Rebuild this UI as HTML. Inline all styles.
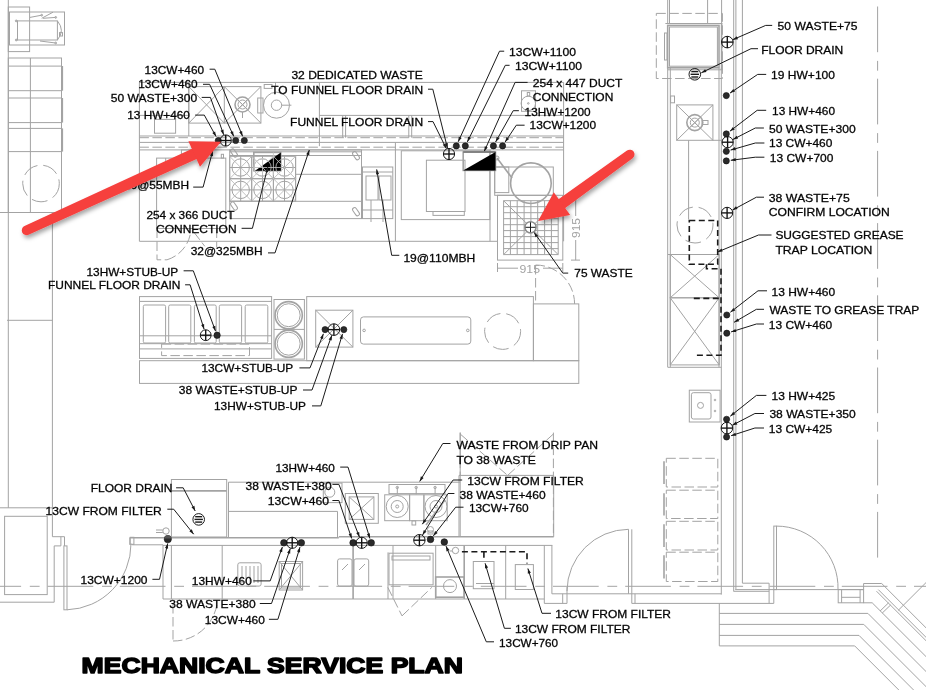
<!DOCTYPE html>
<html><head><meta charset="utf-8"><title>Mechanical Service Plan</title>
<style>
html,body{margin:0;padding:0;background:#fff;}
body{width:926px;height:690px;overflow:hidden;}
svg{display:block;}
.g{stroke:#a3a3a3;stroke-width:1;fill:none;}
.gt{stroke:#a3a3a3;stroke-width:1.6;fill:none;}
.gw{stroke:#c8c8c8;stroke-width:0.8;fill:none;}
.gl{stroke:#b4b4b4;stroke-width:0.8;fill:none;}
.gd{stroke:#a3a3a3;stroke-width:1;fill:none;stroke-dasharray:9.5 3.5;}
.gdc{stroke:#a3a3a3;stroke-width:1;fill:none;stroke-dasharray:16 6;}
.gdl{stroke:#a3a3a3;stroke-width:1;fill:none;stroke-dasharray:45.7 8.7 9.8 8;}
.k{stroke:#1a1a1a;stroke-width:1;fill:none;}
.kc{stroke:#1a1a1a;stroke-width:1;fill:#fff;fill-opacity:0;}
.kd{stroke:#1a1a1a;stroke-width:1.6;fill:none;stroke-dasharray:6 3.5;}
.gk{stroke:#555;stroke-width:1.2;fill:none;}
.kx{stroke:#111;stroke-width:1.35;fill:none;}
.kb{stroke:#1a1a1a;stroke-width:1.4;fill:none;}
.ka{fill:#1a1a1a;stroke:none;}
.kf{fill:#000;stroke:none;}
.dot{fill:#2a2a2a;stroke:#111;stroke-width:0.6;}
.dotf{fill:#1a1a1a;}
.tg{opacity:0.995;}
.t{font-family:"Liberation Sans",sans-serif;fill:#050505;stroke:#050505;stroke-width:0.28;}
.gtxt{opacity:0.995;font-family:"Liberation Sans",sans-serif;font-size:11px;fill:#a3a3a3;}
.red{fill:#f63f3e;}
.title{opacity:0.995;font-family:"Liberation Sans",sans-serif;font-weight:bold;font-size:22.3px;fill:#000;stroke:#000;stroke-width:1.5;stroke-linejoin:round;}
</style></head>
<body>
<svg width="926" height="690" viewBox="0 0 926 690">
<defs>
<filter id="sh" x="-10%" y="-20%" width="130%" height="150%">
<feDropShadow dx="1.5" dy="3" stdDeviation="2.2" flood-color="#000" flood-opacity="0.35"/>
</filter>
</defs>
<rect x="0" y="0" width="926" height="690" fill="#fff"/>
<g>
<line class="gdl" x1="-24.6" y1="586.3" x2="926" y2="586.3"/>
<line class="gdl" x1="877.6" y1="6.5" x2="877.6" y2="563"/>
<line class="g" x1="8.3" y1="0" x2="8.3" y2="507.8"/>
<rect class="g" x="8.3" y="7" width="21.3" height="44.6"/>
<rect class="g" x="9.5" y="12" width="55" height="33"/>
<rect class="g" x="17.5" y="20.9" width="39.9" height="19.1"/>
<line class="g" x1="16" y1="20.9" x2="17.5" y2="20.9"/>
<line class="g" x1="16" y1="40" x2="17.5" y2="40"/>
<path class="g" d="M57.4,20.9 q8,9.5 0,19.1"/>
<rect class="g" x="59.5" y="32.6" width="3" height="3.4"/>
<circle class="g" cx="16.2" cy="20.9" r="0.9"/>
<circle class="g" cx="16.2" cy="40" r="0.9"/>
<circle class="g" cx="55.7" cy="17.4" r="0.9"/>
<circle class="g" cx="55.7" cy="43" r="0.9"/>
<circle class="g" cx="41.7" cy="15.2" r="0.9"/>
<line class="g" x1="30" y1="17.4" x2="41.7" y2="15.2"/>
<line class="g" x1="41.7" y1="18.3" x2="53" y2="12.2"/>
<line class="g" x1="43" y1="18.3" x2="55.7" y2="17.4"/>
<line class="g" x1="40" y1="41" x2="55.7" y2="43"/>
<rect class="g" x="8.3" y="58" width="53.2" height="154.5"/>
<line class="g" x1="8.3" y1="66.1" x2="61.5" y2="66.1"/>
<line class="g" x1="8.3" y1="90.7" x2="61.5" y2="90.7"/>
<line class="g" x1="8.3" y1="98" x2="61.5" y2="98"/>
<line class="g" x1="8.3" y1="122.6" x2="61.5" y2="122.6"/>
<line class="g" x1="8.3" y1="128.4" x2="61.5" y2="128.4"/>
<line class="g" x1="8.3" y1="151.6" x2="61.5" y2="151.6"/>
<line class="g" x1="30.4" y1="58" x2="30.4" y2="212.5"/>
<line class="gt" x1="62.3" y1="66" x2="62.3" y2="90.7"/>
<line class="gt" x1="62.3" y1="98" x2="62.3" y2="122.6"/>
<line class="gt" x1="62.3" y1="128.4" x2="62.3" y2="151.6"/>
<circle class="gdc" cx="41" cy="183.5" r="18.3"/>
<line class="g" x1="0" y1="212.5" x2="8.3" y2="212.5"/>
<line class="g" x1="52.4" y1="212.5" x2="52.4" y2="536.7"/>
<line class="g" x1="7" y1="320.3" x2="52.4" y2="320.3"/>
<line class="g" x1="0" y1="507.8" x2="52.4" y2="507.8"/>
<rect class="g" x="4.6" y="516.3" width="42.6" height="78.3"/>
<line class="g" x1="0" y1="602.2" x2="54.2" y2="602.2"/>
<line class="g" x1="54.2" y1="545.9" x2="54.2" y2="602.2"/>
<line class="g" x1="52.4" y1="536.7" x2="64.5" y2="536.7"/>
<line class="g" x1="60.9" y1="536.7" x2="60.9" y2="545.9"/>
<line class="g" x1="64.5" y1="536.7" x2="64.5" y2="545.9"/>
<line class="g" x1="54.2" y1="545.9" x2="60.9" y2="545.9"/>
<rect class="g" x="63.9" y="545.9" width="3.1" height="63.9"/>
<path class="g" d="M67,609.8 A66,66 0 0 0 131,543.5"/>
<rect class="g" x="130.2" y="537.3" width="3.7" height="7"/>
<line class="g" x1="139.4" y1="82.4" x2="563.6" y2="82.4"/>
<line class="g" x1="139.4" y1="82.4" x2="139.4" y2="241.3"/>
<line class="g" x1="563.6" y1="82.4" x2="563.6" y2="241.3"/>
<line class="g" x1="139.4" y1="241.3" x2="497.5" y2="241.3"/>
<line class="g" x1="139.4" y1="115.4" x2="188.8" y2="115.4"/>
<line class="g" x1="319.4" y1="115.4" x2="563.6" y2="115.4"/>
<rect class="g" x="154.5" y="119.4" width="21.1" height="13.8"/>
<line class="g" x1="188.8" y1="82.4" x2="188.8" y2="136"/>
<rect class="g" x="188.8" y="86.6" width="72.1" height="36.5"/>
<line class="g" x1="188.8" y1="86.6" x2="224.3" y2="123.1"/>
<line class="g" x1="188.8" y1="123.1" x2="224.3" y2="86.6"/>
<line class="g" x1="224.3" y1="86.6" x2="224.3" y2="123.1"/>
<line class="g" x1="224.3" y1="86.6" x2="260.9" y2="123.1"/>
<line class="g" x1="224.3" y1="123.1" x2="260.9" y2="86.6"/>
<circle class="gt" cx="242.5" cy="104.5" r="7.5"/>
<circle class="g" cx="242.5" cy="104.5" r="4.5"/>
<line class="g" x1="238" y1="100" x2="247" y2="109"/>
<line class="g" x1="238" y1="109" x2="247" y2="100"/>
<line class="g" x1="242.5" y1="112" x2="242.5" y2="118"/>
<circle class="g" cx="276.5" cy="105.2" r="13"/>
<circle class="g" cx="276.5" cy="105.2" r="5.2"/>
<line class="g" x1="281.7" y1="105.2" x2="291.4" y2="105.2"/>
<rect class="g" x="257.7" y="98" width="5.3" height="15"/>
<rect class="g" x="264.2" y="84.5" width="7.8" height="3.9"/>
<line class="g" x1="319.4" y1="82.4" x2="319.4" y2="146.2"/>
<line class="g" x1="275.5" y1="82.4" x2="275.5" y2="86"/>
<rect class="g" x="521.5" y="90.8" width="14" height="20.5"/>
<circle class="g" cx="528.3" cy="103.4" r="7.2"/>
<circle class="g" cx="528.3" cy="103.4" r="0.8"/>
<rect class="g" x="527.3" y="92.5" width="2.4" height="3.5"/>
<line class="g" x1="139.4" y1="136" x2="563.6" y2="136"/>
<line class="gd" x1="139.4" y1="137.7" x2="563.6" y2="137.7"/>
<line class="g" x1="139.4" y1="142.4" x2="563.6" y2="142.4"/>
<line class="gd" x1="139.4" y1="147.2" x2="563.6" y2="147.2"/>
<line class="g" x1="139.4" y1="149.9" x2="563.6" y2="149.9"/>
<line class="g" x1="342.7" y1="115.4" x2="342.7" y2="137.7"/>
<line class="g" x1="345.6" y1="115.4" x2="345.6" y2="137.7"/>
<line class="g" x1="408.8" y1="115.4" x2="408.8" y2="137.7"/>
<line class="g" x1="411.7" y1="115.4" x2="411.7" y2="137.7"/>
<rect class="g" x="156.6" y="158.1" width="69.2" height="70.4"/>
<rect class="g" x="181.4" y="149.9" width="9.7" height="8.2"/>
<rect class="g" x="221.3" y="154.3" width="2.2" height="3.8"/>
<line class="g" x1="165.7" y1="158.1" x2="165.7" y2="162"/>
<polyline class="gd" points="157,228.5 157,259.8 167,259.8"/>
<path class="gd" d="M167,259.8 A34,34 0 0 0 190.8,231.2"/>
<line class="gd" x1="194" y1="232.3" x2="204.8" y2="246.3"/>
<line class="gd" x1="216.7" y1="228.5" x2="216.7" y2="247.4"/>
<rect class="g" x="229.7" y="149.9" width="131.8" height="68.7"/>
<line class="g" x1="229.7" y1="151.8" x2="361.5" y2="151.8"/>
<line class="g" x1="229.7" y1="155.5" x2="361.5" y2="155.5"/>
<line class="g" x1="295.6" y1="174.3" x2="361.5" y2="174.3"/>
<line class="g" x1="229.7" y1="201.3" x2="361.5" y2="201.3"/>
<line class="g" x1="295.6" y1="155.5" x2="295.6" y2="201.3"/>
<rect class="g" x="229.7" y="156.3" width="22" height="22.4"/>
<circle class="g" cx="240.7" cy="167.5" r="8.7"/>
<line class="gl" x1="229.7" y1="156.3" x2="251.7" y2="178.7"/>
<line class="gl" x1="229.7" y1="178.7" x2="251.7" y2="156.3"/>
<line class="g" x1="229.7" y1="167.5" x2="251.7" y2="167.5"/>
<line class="g" x1="240.7" y1="156.3" x2="240.7" y2="178.7"/>
<rect class="g" x="229.7" y="178.7" width="22" height="22.4"/>
<circle class="g" cx="240.7" cy="189.9" r="8.7"/>
<line class="gl" x1="229.7" y1="178.7" x2="251.7" y2="201.1"/>
<line class="gl" x1="229.7" y1="201.1" x2="251.7" y2="178.7"/>
<line class="g" x1="229.7" y1="189.9" x2="251.7" y2="189.9"/>
<line class="g" x1="240.7" y1="178.7" x2="240.7" y2="201.1"/>
<rect class="g" x="251.7" y="156.3" width="21.7" height="22.4"/>
<circle class="g" cx="262.5" cy="167.5" r="8.7"/>
<line class="gl" x1="251.7" y1="156.3" x2="273.4" y2="178.7"/>
<line class="gl" x1="251.7" y1="178.7" x2="273.4" y2="156.3"/>
<line class="g" x1="251.7" y1="167.5" x2="273.4" y2="167.5"/>
<line class="g" x1="262.5" y1="156.3" x2="262.5" y2="178.7"/>
<rect class="g" x="251.7" y="178.7" width="21.7" height="22.4"/>
<circle class="g" cx="262.5" cy="189.9" r="8.7"/>
<line class="gl" x1="251.7" y1="178.7" x2="273.4" y2="201.1"/>
<line class="gl" x1="251.7" y1="201.1" x2="273.4" y2="178.7"/>
<line class="g" x1="251.7" y1="189.9" x2="273.4" y2="189.9"/>
<line class="g" x1="262.5" y1="178.7" x2="262.5" y2="201.1"/>
<rect class="g" x="273.4" y="156.3" width="22.2" height="22.4"/>
<circle class="g" cx="284.5" cy="167.5" r="8.7"/>
<line class="gl" x1="273.4" y1="156.3" x2="295.6" y2="178.7"/>
<line class="gl" x1="273.4" y1="178.7" x2="295.6" y2="156.3"/>
<line class="g" x1="273.4" y1="167.5" x2="295.6" y2="167.5"/>
<line class="g" x1="284.5" y1="156.3" x2="284.5" y2="178.7"/>
<rect class="g" x="273.4" y="178.7" width="22.2" height="22.4"/>
<circle class="g" cx="284.5" cy="189.9" r="8.7"/>
<line class="gl" x1="273.4" y1="178.7" x2="295.6" y2="201.1"/>
<line class="gl" x1="273.4" y1="201.1" x2="295.6" y2="178.7"/>
<line class="g" x1="273.4" y1="189.9" x2="295.6" y2="189.9"/>
<line class="g" x1="284.5" y1="178.7" x2="284.5" y2="201.1"/>
<rect class="g" x="232" y="148.5" width="4" height="9" rx="2" transform="rotate(-35 234 153)"/>
<rect class="g" x="354" y="151.2" width="4" height="9" rx="2" transform="rotate(-35 356 155.7)"/>
<rect class="g" x="232" y="201.5" width="4" height="9" rx="2" transform="rotate(-35 234 206)"/>
<rect class="g" x="354" y="207.2" width="4" height="9" rx="2" transform="rotate(-35 356 211.7)"/>
<rect class="g" x="362.5" y="167" width="30.3" height="51.6"/>
<rect class="g" x="366" y="176" width="12" height="24"/>
<rect class="g" x="379" y="176" width="12" height="24"/>
<line class="g" x1="362.5" y1="172" x2="392.8" y2="172"/>
<line class="g" x1="362.5" y1="210" x2="392.8" y2="210"/>
<line class="g" x1="371" y1="200" x2="371" y2="222"/>
<line class="g" x1="383" y1="200" x2="383" y2="222"/>
<line class="g" x1="395.4" y1="142.4" x2="395.4" y2="241.3"/>
<rect class="g" x="401.3" y="150.8" width="88.6" height="68.8"/>
<rect class="g" x="426.4" y="160.2" width="38.6" height="51.3"/>
<rect class="g" x="433" y="211.5" width="31.3" height="3.9"/>
<line class="g" x1="490" y1="149.9" x2="490" y2="241.3"/>
<rect class="g" x="494.7" y="167" width="58.6" height="28.3"/>
<rect class="g" x="494.7" y="167" width="14.1" height="25.6"/>
<circle class="gt" cx="530.9" cy="183.2" r="20.3"/>
<line class="gt" x1="497" y1="158" x2="512" y2="178"/>
<circle class="g" cx="497" cy="158" r="2"/>
<rect class="g" x="497.5" y="195.3" width="65.3" height="64.8"/>
<line class="g" x1="503.6" y1="200.7" x2="503.6" y2="254.6"/>
<line class="g" x1="510.4" y1="200.7" x2="510.4" y2="254.6"/>
<line class="g" x1="517.2" y1="200.7" x2="517.2" y2="254.6"/>
<line class="g" x1="524.1" y1="200.7" x2="524.1" y2="254.6"/>
<line class="g" x1="530.9" y1="200.7" x2="530.9" y2="254.6"/>
<line class="g" x1="537.7" y1="200.7" x2="537.7" y2="254.6"/>
<line class="g" x1="544.6" y1="200.7" x2="544.6" y2="254.6"/>
<line class="g" x1="551.4" y1="200.7" x2="551.4" y2="254.6"/>
<line class="g" x1="558.2" y1="200.7" x2="558.2" y2="254.6"/>
<line class="g" x1="503.6" y1="200.7" x2="558.2" y2="200.7"/>
<line class="g" x1="503.6" y1="206.7" x2="558.2" y2="206.7"/>
<line class="g" x1="503.6" y1="212.7" x2="558.2" y2="212.7"/>
<line class="g" x1="503.6" y1="218.7" x2="558.2" y2="218.7"/>
<line class="g" x1="503.6" y1="224.7" x2="558.2" y2="224.7"/>
<line class="g" x1="503.6" y1="230.6" x2="558.2" y2="230.6"/>
<line class="g" x1="503.6" y1="236.6" x2="558.2" y2="236.6"/>
<line class="g" x1="503.6" y1="242.6" x2="558.2" y2="242.6"/>
<line class="g" x1="503.6" y1="248.6" x2="558.2" y2="248.6"/>
<line class="g" x1="503.6" y1="254.6" x2="558.2" y2="254.6"/>
<line class="g" x1="503.6" y1="200.7" x2="558.2" y2="254.6"/>
<line class="g" x1="503.6" y1="254.6" x2="558.2" y2="200.7"/>
<line class="g" x1="575.7" y1="195.3" x2="575.7" y2="216"/>
<line class="g" x1="575.7" y1="240" x2="575.7" y2="260.1"/>
<line class="g" x1="571" y1="260.1" x2="580" y2="260.1"/>
<line class="g" x1="497.5" y1="268.2" x2="518" y2="268.2"/>
<line class="g" x1="543" y1="268.2" x2="562.8" y2="268.2"/>
<line class="g" x1="497.5" y1="263" x2="497.5" y2="272"/>
<line class="g" x1="562.8" y1="263" x2="562.8" y2="272"/>
<text class="gtxt" x="519.5" y="273" textLength="20.5" lengthAdjust="spacingAndGlyphs">915</text>
<text class="gtxt" transform="translate(580.3,238) rotate(-90)" x="0" y="0" textLength="20" lengthAdjust="spacingAndGlyphs">915</text>
<line class="gd" x1="535.6" y1="265" x2="535.6" y2="303.9"/>
<path class="gd" d="M535.6,265 A39,39 0 0 1 574.6,303.9"/>
<rect class="g" x="139.5" y="296.6" width="132.1" height="61.8"/>
<line class="g" x1="139.5" y1="301.4" x2="271.6" y2="301.4"/>
<rect class="g" x="143.3" y="305" width="22.3" height="38" rx="1.5"/>
<rect class="g" x="168.7" y="305" width="22.1" height="38" rx="1.5"/>
<rect class="g" x="194.4" y="305" width="21.8" height="38" rx="1.5"/>
<rect class="g" x="219.3" y="305" width="22.3" height="38" rx="1.5"/>
<rect class="g" x="245.2" y="305" width="22.6" height="38" rx="1.5"/>
<line class="g" x1="139.5" y1="335.8" x2="271.6" y2="335.8"/>
<line class="g" x1="139.5" y1="343.7" x2="271.6" y2="343.7"/>
<line class="g" x1="139.5" y1="348.9" x2="271.6" y2="348.9"/>
<rect class="gd" x="161.6" y="344.1" width="87.9" height="11.5"/>
<rect class="g" x="274" y="299.5" width="30.4" height="59.6"/>
<line class="g" x1="274" y1="329.4" x2="304.4" y2="329.4"/>
<circle class="gt" cx="288.7" cy="315.2" r="13.6"/>
<circle class="g" cx="288.7" cy="315.2" r="11.5"/>
<circle class="gt" cx="288.7" cy="343.7" r="13.6"/>
<circle class="g" cx="288.7" cy="343.7" r="11.5"/>
<rect class="g" x="306.7" y="296.6" width="226.7" height="64.1"/>
<rect class="g" x="533.4" y="303.9" width="45.4" height="56.8"/>
<rect class="g" x="139.5" y="360.7" width="439.3" height="22.7"/>
<rect class="g" x="315.7" y="310.2" width="37.2" height="36.9"/>
<line class="g" x1="315.7" y1="310.2" x2="352.9" y2="347.1"/>
<line class="g" x1="315.7" y1="347.1" x2="352.9" y2="310.2"/>
<rect class="g" x="360.5" y="316.9" width="110.3" height="27.2" rx="3"/>
<circle class="g" cx="364.1" cy="330.4" r="1.3"/>
<circle class="g" cx="467.8" cy="330.4" r="1.3"/>
<circle class="gdc" cx="502.6" cy="331.4" r="18"/>
<line class="g" x1="667.7" y1="0" x2="667.7" y2="23.5"/>
<line class="g" x1="669.5" y1="0" x2="669.5" y2="23.5"/>
<line class="g" x1="707.6" y1="0" x2="707.6" y2="23.5"/>
<line class="g" x1="721.6" y1="0" x2="721.6" y2="23.5"/>
<rect class="gd" x="656.3" y="13.4" width="66.1" height="65.1"/>
<line class="g" x1="665.4" y1="23.5" x2="722.4" y2="23.5"/>
<rect class="gt" x="667.7" y="25.4" width="51.3" height="42.4"/>
<rect class="g" x="669.5" y="27" width="47.9" height="39.2"/>
<rect class="g" x="664.5" y="33" width="2.5" height="27"/>
<line class="gt" x1="721.6" y1="23.5" x2="721.6" y2="70"/>
<line class="g" x1="667.7" y1="69.8" x2="722.4" y2="69.8"/>
<line class="g" x1="667.7" y1="67.8" x2="667.7" y2="367.3"/>
<line class="g" x1="670.3" y1="67.8" x2="670.3" y2="367.3"/>
<line class="g" x1="721.3" y1="67.8" x2="721.3" y2="594.6"/>
<line class="g" x1="733.7" y1="0" x2="733.7" y2="591.3"/>
<line class="g" x1="719" y1="67.8" x2="719" y2="367.3"/>
<line class="g" x1="735.9" y1="0" x2="735.9" y2="589"/>
<line class="g" x1="742.4" y1="0" x2="742.4" y2="583"/>
<rect class="g" x="670.6" y="96" width="3.9" height="6.8"/>
<rect class="g" x="676.7" y="104.9" width="36.2" height="35.4"/>
<line class="g" x1="676.7" y1="104.9" x2="712.9" y2="140.3"/>
<line class="g" x1="676.7" y1="140.3" x2="712.9" y2="104.9"/>
<circle class="gt" cx="694.8" cy="122.6" r="8"/>
<circle class="g" cx="694.8" cy="122.6" r="4.5"/>
<line class="g" x1="690" y1="118" x2="699.5" y2="127.5"/>
<line class="g" x1="690" y1="127.5" x2="699.5" y2="118"/>
<rect class="g" x="702" y="120.5" width="6" height="4"/>
<line class="g" x1="688.6" y1="140.3" x2="688.6" y2="219.4"/>
<line class="g" x1="712.9" y1="140.3" x2="721.3" y2="140.3"/>
<circle class="gdc" cx="695" cy="225" r="18"/>
<line class="g" x1="667.8" y1="254.5" x2="719.2" y2="254.5"/>
<rect class="g" x="670.2" y="254.5" width="49" height="43.3"/>
<line class="g" x1="670.2" y1="254.5" x2="719.2" y2="297.8"/>
<line class="g" x1="670.2" y1="297.8" x2="719.2" y2="254.5"/>
<rect class="g" x="670.2" y="297.8" width="49" height="67.1"/>
<line class="g" x1="670.2" y1="297.8" x2="719.2" y2="364.9"/>
<line class="g" x1="670.2" y1="364.9" x2="719.2" y2="297.8"/>
<line class="g" x1="667.8" y1="367.3" x2="721.3" y2="367.3"/>
<rect class="g" x="689.3" y="390.2" width="30.8" height="31.8"/>
<rect class="g" x="691.4" y="392.7" width="19.6" height="26.3" rx="2"/>
<circle class="g" cx="700.5" cy="405.4" r="3"/>
<circle class="g" cx="715" cy="400" r="0.8"/>
<circle class="g" cx="715" cy="411" r="0.8"/>
<rect class="gd" x="666.3" y="458.3" width="51.5" height="28.7"/>
<line class="gt" x1="664" y1="461.3" x2="664" y2="484"/>
<rect class="gd" x="666.3" y="490.2" width="51.5" height="28.3"/>
<line class="gt" x1="664" y1="493.2" x2="664" y2="515.5"/>
<rect class="gd" x="666.3" y="521.3" width="51.5" height="28.7"/>
<line class="gt" x1="664" y1="524.3" x2="664" y2="547"/>
<rect class="gd" x="666.3" y="552.2" width="51.5" height="29.3"/>
<line class="gt" x1="664" y1="555.2" x2="664" y2="578.5"/>
<line class="g" x1="628.5" y1="529.3" x2="628.5" y2="593.8"/>
<line class="g" x1="631.8" y1="529.3" x2="631.8" y2="603.4"/>
<line class="g" x1="635" y1="593.8" x2="635" y2="603.4"/>
<line class="g" x1="551.9" y1="593.8" x2="721.4" y2="593.8"/>
<line class="g" x1="544.3" y1="603.4" x2="567" y2="603.4"/>
<line class="g" x1="631.8" y1="603.4" x2="773.8" y2="603.4"/>
<line class="g" x1="562.7" y1="593.8" x2="562.7" y2="603.4"/>
<line class="g" x1="567" y1="587" x2="567" y2="603.4"/>
<path class="g" d="M628.5,529.3 A62,62 0 0 0 567,591"/>
<rect class="g" x="773.8" y="526.1" width="2.7" height="63.5"/>
<line class="g" x1="773.8" y1="589.6" x2="773.8" y2="603.4"/>
<path class="g" d="M776.5,526.1 A61.5,61.5 0 0 1 838,589.6"/>
<line class="g" x1="733.5" y1="591.3" x2="769.1" y2="591.3"/>
<line class="g" x1="735.1" y1="589.6" x2="863.6" y2="589.6"/>
<line class="g" x1="742.3" y1="583.2" x2="769.1" y2="583.2"/>
<line class="g" x1="769.1" y1="583.2" x2="769.1" y2="603.4"/>
<rect class="g" x="838.2" y="589.6" width="25.4" height="13.2"/>
<line class="g" x1="841.6" y1="589.6" x2="841.6" y2="602.8"/>
<line class="g" x1="860.1" y1="589.6" x2="860.1" y2="602.8"/>
<line class="g" x1="841.6" y1="597.3" x2="860.1" y2="597.3"/>
<line class="g" x1="863.6" y1="602.8" x2="872.2" y2="602.8"/>
<line class="g" x1="719.3" y1="603.4" x2="719.3" y2="645.9"/>
<line class="g" x1="719.3" y1="613.4" x2="867.9" y2="613.4"/>
<line class="g" x1="867.9" y1="613.4" x2="947.9" y2="693.4"/>
<line class="g" x1="719.3" y1="624.4" x2="863.8" y2="624.4"/>
<line class="g" x1="863.8" y1="624.4" x2="943.8" y2="704.4"/>
<line class="g" x1="719.3" y1="635.4" x2="859" y2="635.4"/>
<line class="g" x1="859" y1="635.4" x2="939" y2="715.4"/>
<line class="g" x1="719.3" y1="645.9" x2="854.7" y2="645.9"/>
<line class="g" x1="854.7" y1="645.9" x2="934.7" y2="725.9"/>
<line class="g" x1="872.2" y1="602.8" x2="960" y2="690.6"/>
<line class="g" x1="863.6" y1="583.5" x2="881.7" y2="583.5"/>
<line class="g" x1="863.6" y1="583.5" x2="863.6" y2="589.6"/>
<line class="g" x1="881.7" y1="583.5" x2="940" y2="641.8"/>
<line class="g" x1="878.3" y1="589.6" x2="940" y2="651.3"/>
<line class="g" x1="876.5" y1="591.2" x2="940" y2="654.7"/>
<line class="g" x1="926" y1="582.6" x2="898.2" y2="610.4"/>
<line class="g" x1="880" y1="611.1" x2="888.6" y2="602.8"/>
<line class="g" x1="882.2" y1="613.1" x2="890.6" y2="605"/>
<line class="g" x1="52.4" y1="536.7" x2="52.4" y2="536.7"/>
<line class="gt" x1="129.8" y1="537.7" x2="338.8" y2="537.7"/>
<line class="g" x1="129.8" y1="537.7" x2="129.8" y2="544.8"/>
<line class="g" x1="132.2" y1="544.8" x2="163" y2="544.8"/>
<line class="g" x1="163" y1="545.4" x2="552.4" y2="545.4"/>
<line class="g" x1="163" y1="544.8" x2="163" y2="599"/>
<line class="g" x1="171.4" y1="545.4" x2="171.4" y2="599"/>
<line class="g" x1="163" y1="599" x2="544.3" y2="599"/>
<line class="g" x1="222.2" y1="545.4" x2="222.2" y2="599"/>
<line class="gt" x1="353.1" y1="545.4" x2="353.1" y2="599"/>
<rect class="g" x="171.4" y="479.5" width="55.3" height="57.5"/>
<line class="gt" x1="171.4" y1="490.9" x2="226.7" y2="490.9"/>
<line class="g" x1="228.5" y1="511.4" x2="337.5" y2="511.4"/>
<line class="g" x1="337.5" y1="511.4" x2="337.5" y2="537.7"/>
<line class="g" x1="228.5" y1="482.2" x2="460.2" y2="482.2"/>
<line class="g" x1="228.5" y1="482.2" x2="228.5" y2="537"/>
<rect class="g" x="323.3" y="483.1" width="18.7" height="19.5"/>
<circle class="g" cx="329.8" cy="492.2" r="5"/>
<rect class="g" x="349.2" y="496.9" width="24.7" height="22.5"/>
<line class="g" x1="349.2" y1="496.9" x2="373.9" y2="519.4"/>
<line class="g" x1="349.2" y1="519.4" x2="373.9" y2="496.9"/>
<rect class="g" x="345.3" y="493.5" width="33" height="29.8"/>
<rect class="g" x="384.7" y="494.8" width="24.9" height="25.9"/>
<rect class="g" x="409.6" y="494.8" width="14.3" height="25.9"/>
<rect class="g" x="423.9" y="494.8" width="23.3" height="25.9"/>
<rect class="g" x="389" y="484.5" width="56" height="9.1"/>
<line class="g" x1="397.3" y1="486.8" x2="397.3" y2="494.3"/>
<circle class="g" cx="397.3" cy="487.5" r="1.2"/>
<line class="g" x1="416.2" y1="486.8" x2="416.2" y2="494.3"/>
<circle class="g" cx="416.2" cy="487.5" r="1.2"/>
<line class="g" x1="435.1" y1="486.8" x2="435.1" y2="494.3"/>
<circle class="g" cx="435.1" cy="487.5" r="1.2"/>
<circle class="g" cx="430.5" cy="529.5" r="3"/>
<rect class="g" x="428" y="531" width="5" height="3"/>
<rect class="g" x="412" y="520.9" width="3.7" height="4.1"/>
<circle class="g" cx="397.2" cy="506.5" r="11"/>
<circle class="g" cx="397.2" cy="506.5" r="6"/>
<circle class="g" cx="397.2" cy="506.5" r="1.5"/>
<circle class="g" cx="436" cy="506.5" r="11"/>
<circle class="g" cx="436" cy="506.5" r="6"/>
<circle class="g" cx="436" cy="506.5" r="1.5"/>
<line class="gt" x1="426" y1="525" x2="445" y2="500"/>
<line class="g" x1="460.2" y1="432.6" x2="460.2" y2="536.8"/>
<line class="g" x1="459" y1="475.4" x2="553.4" y2="475.4"/>
<line class="gd" x1="553.4" y1="432.6" x2="553.4" y2="536.8"/>
<line class="gd" x1="460.2" y1="432.6" x2="460.2" y2="475.4"/>
<line class="gd" x1="460.2" y1="434" x2="507.6" y2="475.4"/>
<line class="gd" x1="553.4" y1="434" x2="507.6" y2="475.4"/>
<line class="gt" x1="338.8" y1="536.8" x2="553.7" y2="536.8"/>
<line class="g" x1="459" y1="475.4" x2="459" y2="536.8"/>
<line class="g" x1="553.7" y1="475.4" x2="553.7" y2="536.8"/>
<line class="g" x1="393" y1="545.4" x2="393" y2="599"/>
<line class="g" x1="435.7" y1="545.4" x2="435.7" y2="599"/>
<line class="gt" x1="464.2" y1="545.4" x2="464.2" y2="599"/>
<line class="g" x1="505.7" y1="545.4" x2="505.7" y2="599"/>
<line class="g" x1="544.3" y1="545.4" x2="544.3" y2="603.4"/>
<line class="g" x1="551.9" y1="545.4" x2="551.9" y2="593.8"/>
<rect class="g" x="389" y="553.2" width="44.1" height="31.6"/>
<rect class="g" x="392" y="556" width="38" height="4"/>
<rect class="gt" x="435.7" y="577" width="28.5" height="20.2"/>
<circle class="g" cx="450" cy="586.1" r="6.5"/>
<rect class="g" x="473.3" y="561.5" width="20.7" height="27.2"/>
<line class="g" x1="476" y1="583.5" x2="494" y2="583.5"/>
<rect class="g" x="515.3" y="564.6" width="18.1" height="24.9"/>
<rect class="g" x="237.8" y="562.8" width="23.3" height="23.3" rx="2"/>
<line class="g" x1="242" y1="566" x2="242" y2="583"/>
<line class="g" x1="246" y1="566" x2="246" y2="583"/>
<line class="g" x1="250" y1="566" x2="250" y2="583"/>
<line class="g" x1="254" y1="566" x2="254" y2="583"/>
<line class="g" x1="258" y1="566" x2="258" y2="583"/>
<rect class="g" x="279.2" y="561.5" width="23.4" height="28.5"/>
<line class="g" x1="279.2" y1="561.5" x2="302.6" y2="590"/>
<line class="g" x1="279.2" y1="590" x2="302.6" y2="561.5"/>
<rect class="g" x="281.5" y="563.5" width="18.8" height="24.5"/>
<rect class="g" x="337.6" y="558.9" width="14.4" height="27.2" rx="2"/>
<rect class="g" x="354" y="558.9" width="14.7" height="27.2" rx="2"/>
<line class="g" x1="342" y1="570" x2="348" y2="564"/>
<line class="g" x1="359" y1="570" x2="365" y2="564"/>
<line class="g" x1="388" y1="552.4" x2="388" y2="599"/>
<path class="gd" d="M173,641 A44,44 0 0 0 217,604"/>
<line class="gd" x1="173" y1="604" x2="173" y2="641"/>
<line class="gd" x1="387.8" y1="587.4" x2="402" y2="615.9"/>
<line class="gd" x1="402" y1="615.9" x2="431.8" y2="587.4"/>
</g>
<g>
<circle class="dot" cx="218.3" cy="140.5" r="3.1"/>
<circle class="kc" cx="225.7" cy="140.5" r="5.6"/>
<line class="kx" x1="220.1" y1="140.5" x2="231.3" y2="140.5"/>
<line class="kx" x1="225.7" y1="134.9" x2="225.7" y2="146.1"/>
<circle class="dot" cx="235.7" cy="140.5" r="3.1"/>
<circle class="dot" cx="244.3" cy="140.5" r="3.1"/>
<polyline class="k" points="209.6,69.2 214.8,69.2 242.6,136.3"/>
<polygon class="ka" points="242.6,136.3 239.2,132.3 242.1,131.1"/>
<polyline class="k" points="203,84.3 209.6,84.3 233.8,136.4"/>
<polygon class="ka" points="233.8,136.4 230.2,132.6 233.1,131.2"/>
<polyline class="k" points="201.7,97.4 210.4,97.4 223.7,134.8"/>
<polygon class="ka" points="223.7,134.8 220.5,130.7 223.5,129.6"/>
<polyline class="k" points="195.1,115.1 204.3,115.1 216.1,136.6"/>
<polygon class="ka" points="216.1,136.6 212.3,133 215.1,131.4"/>
<circle class="kc" cx="449" cy="154" r="5.6"/>
<line class="kx" x1="443.4" y1="154" x2="454.6" y2="154"/>
<line class="kx" x1="449" y1="148.4" x2="449" y2="159.6"/>
<circle class="dot" cx="456.3" cy="145.9" r="3.1"/>
<circle class="dot" cx="465.3" cy="145.9" r="3.1"/>
<circle class="dot" cx="493.4" cy="145.9" r="3.1"/>
<circle class="dot" cx="502.6" cy="145.9" r="3.1"/>
<polyline class="k" points="428,89.2 432.8,89.2 447.5,148.2"/>
<polygon class="ka" points="447.5,148.2 444.8,143.7 447.9,142.9"/>
<polyline class="k" points="428,121.6 433,121.6 446.3,148.6"/>
<polygon class="ka" points="446.3,148.6 442.7,144.8 445.6,143.4"/>
<polyline class="k" points="504.2,51.2 499.5,51.2 458.2,141.8"/>
<polygon class="ka" points="458.2,141.8 458.8,136.6 461.7,137.9"/>
<polyline class="k" points="509.6,65.3 505.3,65.3 467.3,141.9"/>
<polygon class="ka" points="467.3,141.9 468.1,136.7 471,138.1"/>
<polyline class="k" points="527.6,82.4 515.1,82.4 484.2,151.5"/>
<polygon class="ka" points="484.2,151.5 484.8,146.3 487.7,147.6"/>
<polyline class="k" points="518.9,110.7 513.2,110.7 495.6,142"/>
<polygon class="ka" points="495.6,142 496.7,136.8 499.5,138.4"/>
<polyline class="k" points="524.6,125.2 516.3,125.2 505.1,142.1"/>
<polygon class="ka" points="505.1,142.1 506.5,137.1 509.2,138.9"/>
<rect class="gt" x="463.2" y="152" width="32.3" height="18.4"/>
<line class="gk" x1="463.2" y1="152" x2="495.5" y2="152"/>
<polygon class="kf" points="463.2,170.4 495.5,152 495.5,170.4"/>
<rect class="gt" x="253.8" y="152.4" width="27" height="18.3"/>
<polygon class="kf" points="255.1,170.7 280.8,152.4 280.8,170.7"/>
<line class="gw" x1="262.5" y1="158" x2="262.5" y2="175"/>
<line class="gw" x1="253.8" y1="167.5" x2="280.8" y2="167.5"/>
<line class="gw" x1="273.4" y1="152.4" x2="273.4" y2="175"/>
<line class="gw" x1="251.7" y1="156.3" x2="273.4" y2="178.7"/>
<line class="gw" x1="273.4" y1="156.3" x2="295.6" y2="178.7"/>
<line class="gw" x1="273.4" y1="178.7" x2="295.6" y2="156.3"/>
<circle class="gw" cx="284.5" cy="167.5" r="8.7"/>
<circle class="gw" cx="262.5" cy="167.5" r="8.7"/>
<polyline class="k" points="193.2,187.1 203.1,187.1 212.7,151"/>
<polygon class="ka" points="212.7,151 213,156.2 209.9,155.4"/>
<polyline class="k" points="241.6,228.3 252.4,228.3 267.8,167"/>
<polygon class="ka" points="267.8,167 268.1,172.2 265,171.4"/>
<polyline class="k" points="268,252.9 275,252.9 309.3,150"/>
<polygon class="ka" points="309.3,150 309.3,155.2 306.2,154.2"/>
<polyline class="k" points="399.3,255.3 391.7,255.3 376.7,169.4"/>
<polygon class="ka" points="376.7,169.4 379.1,174 376,174.6"/>
<polyline class="k" points="568.2,273.1 562.8,273.1 534,232.2"/>
<polygon class="ka" points="534,232.2 538.1,235.4 535.5,237.2"/>
<circle cx="530.5" cy="227.3" r="5.6" fill="#fff" stroke="#8a8a8a" stroke-width="1.5"/>
<line class="k" x1="525.5" y1="227.3" x2="535.5" y2="227.3"/>
<line class="k" x1="530.5" y1="222.3" x2="530.5" y2="232.3"/>
<circle class="kc" cx="205.7" cy="335.2" r="5.4"/>
<line class="kx" x1="200.3" y1="335.2" x2="211.1" y2="335.2"/>
<line class="kx" x1="205.7" y1="329.8" x2="205.7" y2="340.6"/>
<circle class="dot" cx="217.1" cy="335.3" r="3.2"/>
<polyline class="k" points="183.6,270.8 193.3,270.8 215.5,331.1"/>
<polygon class="ka" points="215.5,331.1 212.3,326.9 215.3,325.8"/>
<polyline class="k" points="185.1,284.8 190.1,284.8 204.1,329.2"/>
<polygon class="ka" points="204.1,329.2 201.1,324.9 204.1,323.9"/>
<circle class="dot" cx="325.1" cy="329.6" r="3.1"/>
<circle class="kc" cx="333.9" cy="329.6" r="5.8"/>
<line class="kx" x1="328.1" y1="329.6" x2="339.7" y2="329.6"/>
<line class="kx" x1="333.9" y1="323.8" x2="333.9" y2="335.4"/>
<circle class="dot" cx="343.8" cy="329.6" r="3.1"/>
<polyline class="k" points="299.4,367.9 310,367.9 323.4,333.8"/>
<polygon class="ka" points="323.4,333.8 323.1,339 320.1,337.9"/>
<polyline class="k" points="303,390 312,390 331.9,335.2"/>
<polygon class="ka" points="331.9,335.2 331.7,340.5 328.6,339.4"/>
<polyline class="k" points="312,405.9 320.8,405.9 342.5,333.9"/>
<polygon class="ka" points="342.5,333.9 342.6,339.2 339.5,338.2"/>
<circle class="kc" cx="727.3" cy="42.1" r="5.8"/>
<line class="kx" x1="721.5" y1="42.1" x2="733.1" y2="42.1"/>
<line class="kx" x1="727.3" y1="36.3" x2="727.3" y2="47.9"/>
<polyline class="k" points="772.2,25.4 765.7,25.4 732.8,39.7"/>
<polygon class="ka" points="732.8,39.7 736.7,36.2 738,39.2"/>
<circle class="kc" cx="694.8" cy="74.3" r="5.8"/>
<line class="kb" x1="691.3" y1="71.6" x2="698.3" y2="71.6"/>
<line class="kb" x1="690.6" y1="74.3" x2="699" y2="74.3"/>
<line class="kb" x1="691.3" y1="77" x2="698.3" y2="77"/>
<polyline class="k" points="758,48.7 751,48.7 701.3,72.8"/>
<polygon class="ka" points="701.3,72.8 705.1,69.2 706.5,72.1"/>
<circle class="dot" cx="726.3" cy="95.6" r="3.1"/>
<polyline class="k" points="766.2,74.4 757.7,74.4 730,93.1"/>
<polygon class="ka" points="730,93.1 733.3,89 735.1,91.6"/>
<circle class="dot" cx="726.3" cy="133.9" r="3.1"/>
<circle class="kc" cx="727.6" cy="142.2" r="5.6"/>
<line class="kx" x1="722" y1="142.2" x2="733.2" y2="142.2"/>
<line class="kx" x1="727.6" y1="136.6" x2="727.6" y2="147.8"/>
<circle class="dot" cx="726.3" cy="151.3" r="3.1"/>
<circle class="dot" cx="726.3" cy="160.9" r="3.1"/>
<polyline class="k" points="766.2,110.3 757.2,110.3 729.9,131.2"/>
<polygon class="ka" points="729.9,131.2 732.9,126.9 734.8,129.4"/>
<polyline class="k" points="763.9,128 755.3,128 732.9,139.5"/>
<polygon class="ka" points="732.9,139.5 736.7,135.8 738.1,138.6"/>
<polyline class="k" points="764.4,143 755.3,143 730.6,150.1"/>
<polygon class="ka" points="730.6,150.1 735,147.1 735.9,150.2"/>
<polyline class="k" points="764.4,157.2 755.3,157.2 730.8,160.3"/>
<polygon class="ka" points="730.8,160.3 735.5,158.1 735.9,161.3"/>
<circle class="kc" cx="727.1" cy="212.9" r="5.6"/>
<line class="kx" x1="721.5" y1="212.9" x2="732.7" y2="212.9"/>
<line class="kx" x1="727.1" y1="207.3" x2="727.1" y2="218.5"/>
<polyline class="k" points="764,197.2 756.4,197.2 732.4,210.1"/>
<polygon class="ka" points="732.4,210.1 736,206.3 737.6,209.1"/>
<polyline class="k" points="771.5,235 758.5,235 717.5,252"/>
<polygon class="ka" points="717.5,252 721.5,248.6 722.7,251.6"/>
<rect class="kd" x="689.3" y="220.5" width="28.4" height="43.8"/>
<polyline class="kd" points="706.5,264.3 706.5,268.7 721,268.7 721,355.2 693.8,355.2"/>
<line class="kd" x1="693.8" y1="298.4" x2="721" y2="298.4"/>
<circle class="dot" cx="726.8" cy="315" r="3.1"/>
<circle class="dot" cx="726.8" cy="333.2" r="3.1"/>
<polyline class="k" points="767,290.8 758,290.8 730.4,312.2"/>
<polygon class="ka" points="730.4,312.2 733.3,307.9 735.3,310.4"/>
<polyline class="k" points="764,309.3 756.4,309.3 734.1,322.3"/>
<polygon class="ka" points="734.1,322.3 737.6,318.4 739.3,321.2"/>
<polyline class="k" points="764,324 756.4,324 731.1,331.9"/>
<polygon class="ka" points="731.1,331.9 735.4,328.9 736.3,331.9"/>
<circle class="dot" cx="726.6" cy="419.3" r="3.1"/>
<circle class="kc" cx="726.9" cy="428.1" r="5.8"/>
<line class="kx" x1="721.1" y1="428.1" x2="732.7" y2="428.1"/>
<line class="kx" x1="726.9" y1="422.3" x2="726.9" y2="433.9"/>
<circle class="dot" cx="726.6" cy="437" r="3.1"/>
<polyline class="k" points="766.4,395.4 756.4,395.4 730.3,416.2"/>
<polygon class="ka" points="730.3,416.2 733.2,411.8 735.2,414.3"/>
<polyline class="k" points="764,413.5 754.9,413.5 732.2,425.3"/>
<polygon class="ka" points="732.2,425.3 735.9,421.6 737.4,424.4"/>
<polyline class="k" points="764,428 754.9,428 731.1,435.7"/>
<polygon class="ka" points="731.1,435.7 735.3,432.7 736.3,435.7"/>
<circle class="dot" cx="283.9" cy="542.8" r="3.3"/>
<circle class="kc" cx="292.2" cy="542.8" r="5.6"/>
<line class="kx" x1="286.6" y1="542.8" x2="297.8" y2="542.8"/>
<line class="kx" x1="292.2" y1="537.2" x2="292.2" y2="548.4"/>
<circle class="dot" cx="301.3" cy="542.8" r="3.3"/>
<polyline class="k" points="253.3,580.9 270.2,580.9 282.4,547"/>
<polygon class="ka" points="282.4,547 282.2,552.3 279.2,551.2"/>
<polyline class="k" points="259.8,603.5 271.5,603.5 290.3,548.5"/>
<polygon class="ka" points="290.3,548.5 290.2,553.7 287.1,552.7"/>
<polyline class="k" points="268.9,619.3 277.9,619.3 300,547.1"/>
<polygon class="ka" points="300,547.1 300.1,552.4 297,551.4"/>
<circle class="dot" cx="353.1" cy="542.8" r="3.3"/>
<circle class="kc" cx="361.7" cy="542.8" r="5.6"/>
<line class="kx" x1="356.1" y1="542.8" x2="367.3" y2="542.8"/>
<line class="kx" x1="361.7" y1="537.2" x2="361.7" y2="548.4"/>
<circle class="dot" cx="371.2" cy="542.8" r="3.3"/>
<polyline class="k" points="340.2,467.1 348,467.1 369.9,538.5"/>
<polygon class="ka" points="369.9,538.5 366.9,534.2 369.9,533.2"/>
<polyline class="k" points="332.4,484.4 338.9,484.4 359.5,537.2"/>
<polygon class="ka" points="359.5,537.2 356.2,533.1 359.2,532"/>
<polyline class="k" points="332.4,500.5 338.9,500.5 351.7,538.5"/>
<polygon class="ka" points="351.7,538.5 348.6,534.3 351.6,533.3"/>
<circle class="kc" cx="419.4" cy="540.2" r="5.7"/>
<line class="kx" x1="413.7" y1="540.2" x2="425.1" y2="540.2"/>
<line class="kx" x1="419.4" y1="534.5" x2="419.4" y2="545.9"/>
<circle class="dot" cx="430.5" cy="539.4" r="3.3"/>
<circle class="dot" cx="444.3" cy="542" r="3.3"/>
<polyline class="k" points="450.5,443.5 442.8,443.5 419.7,481.4"/>
<polygon class="ka" points="419.7,481.4 420.9,476.3 423.6,477.9"/>
<polyline class="k" points="462.2,480 453.1,480 422.3,524.2"/>
<polygon class="ka" points="422.3,524.2 423.8,519.2 426.5,521"/>
<polyline class="k" points="454.4,493.5 448,493.5 422.5,535.1"/>
<polygon class="ka" points="422.5,535.1 423.8,530 426.5,531.7"/>
<polyline class="k" points="463.5,507.2 455.7,507.2 433.3,535.9"/>
<polygon class="ka" points="433.3,535.9 435.1,530.9 437.6,532.9"/>
<polyline class="k" points="494,641.8 486.3,641.8 446,546.1"/>
<polygon class="ka" points="446,546.1 449.5,550.1 446.5,551.4"/>
<polyline class="k" points="510.9,628.3 504.4,628.3 485.1,563.3"/>
<polygon class="ka" points="485.1,563.3 488.1,567.6 485,568.5"/>
<polyline class="k" points="551,613.3 542,613.3 527.9,568.5"/>
<polygon class="ka" points="527.9,568.5 530.9,572.8 527.8,573.7"/>
<polyline class="kd" points="461.9,551.8 527,551.8 527,563.4"/>
<line class="kd" x1="483.9" y1="551.8" x2="483.9" y2="560.4"/>
<circle class="g" cx="455.5" cy="550.5" r="3.2"/>
<line class="g" x1="449.5" y1="551" x2="452.5" y2="551"/>
<circle class="kc" cx="198.7" cy="519.4" r="5.8"/>
<line class="kb" x1="195.2" y1="516.7" x2="202.2" y2="516.7"/>
<line class="kb" x1="194.5" y1="519.4" x2="202.9" y2="519.4"/>
<line class="kb" x1="195.2" y1="522.1" x2="202.2" y2="522.1"/>
<polyline class="k" points="176.1,487.8 183.2,487.8 195.2,511"/>
<polygon class="ka" points="195.2,511 191.5,507.3 194.4,505.8"/>
<polyline class="k" points="167.3,509.2 173.7,509.2 193.7,534.2"/>
<polygon class="ka" points="193.7,534.2 189.3,531.3 191.8,529.3"/>
<circle class="dot" cx="167.8" cy="539.2" r="3.6"/>
<path fill="#555" d="M164.2,538.6 a3.6,3.6 0 0 1 7.2,0 z"/>
<circle class="g" cx="166" cy="531" r="3.2"/>
<line class="g" x1="156" y1="530" x2="162.8" y2="530"/>
<line class="g" x1="156" y1="532.5" x2="162.8" y2="532.5"/>
<polyline class="k" points="152.4,579.3 159.5,579.3 167.7,543.5"/>
<polygon class="ka" points="167.7,543.5 168.1,548.7 165,548"/>
</g>
<g class="tg">
<text class="t" x="144.6" y="73.7" textLength="59.5" lengthAdjust="spacingAndGlyphs" style="font-size:11px">13CW+460</text>
<text class="t" x="138.2" y="88" textLength="59.5" lengthAdjust="spacingAndGlyphs" style="font-size:11px">13CW+460</text>
<text class="t" x="110.7" y="102.1" textLength="86.5" lengthAdjust="spacingAndGlyphs" style="font-size:11px">50 WASTE+300</text>
<text class="t" x="127.3" y="119.4" textLength="62.6" lengthAdjust="spacingAndGlyphs" style="font-size:11px">13 HW+460</text>
<text class="t" x="291.4" y="79.4" textLength="131.3" lengthAdjust="spacingAndGlyphs" style="font-size:11px">32 DEDICATED WASTE</text>
<text class="t" x="271.3" y="93.9" textLength="151.8" lengthAdjust="spacingAndGlyphs" style="font-size:11px">TO FUNNEL FLOOR DRAIN</text>
<text class="t" x="290.1" y="125.9" textLength="133" lengthAdjust="spacingAndGlyphs" style="font-size:11px">FUNNEL FLOOR DRAIN</text>
<text class="t" x="509" y="56.2" textLength="67" lengthAdjust="spacingAndGlyphs" style="font-size:11px">13CW+1100</text>
<text class="t" x="514.9" y="69.6" textLength="67.1" lengthAdjust="spacingAndGlyphs" style="font-size:11px">13CW+1100</text>
<text class="t" x="532.8" y="86.9" textLength="89.6" lengthAdjust="spacingAndGlyphs" style="font-size:11px">254 x 447 DUCT</text>
<text class="t" x="532.8" y="100.9" textLength="80.5" lengthAdjust="spacingAndGlyphs" style="font-size:11px">CONNECTION</text>
<text class="t" x="524.6" y="115.6" textLength="66" lengthAdjust="spacingAndGlyphs" style="font-size:11px">13HW+1200</text>
<text class="t" x="529.6" y="129.2" textLength="66.5" lengthAdjust="spacingAndGlyphs" style="font-size:11px">13CW+1200</text>
<text class="t" x="124" y="189.3" textLength="65.1" lengthAdjust="spacingAndGlyphs" style="font-size:11px">19@55MBH</text>
<text class="t" x="146.4" y="218.7" textLength="88.1" lengthAdjust="spacingAndGlyphs" style="font-size:11px">254 x 366 DUCT</text>
<text class="t" x="156.1" y="232.8" textLength="80.5" lengthAdjust="spacingAndGlyphs" style="font-size:11px">CONNECTION</text>
<text class="t" x="190.7" y="255" textLength="71.9" lengthAdjust="spacingAndGlyphs" style="font-size:11px">32@325MBH</text>
<text class="t" x="403.4" y="261.5" textLength="71.9" lengthAdjust="spacingAndGlyphs" style="font-size:11px">19@110MBH</text>
<text class="t" x="574.3" y="277.1" textLength="58.4" lengthAdjust="spacingAndGlyphs" style="font-size:11px">75 WASTE</text>
<text class="t" x="86.5" y="275.5" textLength="91.7" lengthAdjust="spacingAndGlyphs" style="font-size:11px">13HW+STUB-UP</text>
<text class="t" x="48" y="288.9" textLength="132.4" lengthAdjust="spacingAndGlyphs" style="font-size:11px">FUNNEL FLOOR DRAIN</text>
<text class="t" x="201.4" y="371.5" textLength="91.9" lengthAdjust="spacingAndGlyphs" style="font-size:11px">13CW+STUB-UP</text>
<text class="t" x="178.8" y="394" textLength="118.6" lengthAdjust="spacingAndGlyphs" style="font-size:11px">38 WASTE+STUB-UP</text>
<text class="t" x="214" y="410.2" textLength="91.9" lengthAdjust="spacingAndGlyphs" style="font-size:11px">13HW+STUB-UP</text>
<text class="t" x="777.6" y="30.3" textLength="79.9" lengthAdjust="spacingAndGlyphs" style="font-size:11px">50 WASTE+75</text>
<text class="t" x="761.2" y="53.7" textLength="82.1" lengthAdjust="spacingAndGlyphs" style="font-size:11px">FLOOR DRAIN</text>
<text class="t" x="771.1" y="78.5" textLength="63.9" lengthAdjust="spacingAndGlyphs" style="font-size:11px">19 HW+100</text>
<text class="t" x="772.1" y="115" textLength="62.9" lengthAdjust="spacingAndGlyphs" style="font-size:11px">13 HW+460</text>
<text class="t" x="769" y="132.6" textLength="86.7" lengthAdjust="spacingAndGlyphs" style="font-size:11px">50 WASTE+300</text>
<text class="t" x="769" y="147.4" textLength="63.4" lengthAdjust="spacingAndGlyphs" style="font-size:11px">13 CW+460</text>
<text class="t" x="769.8" y="162.4" textLength="63.6" lengthAdjust="spacingAndGlyphs" style="font-size:11px">13 CW+700</text>
<text class="t" x="768.8" y="201.7" textLength="80.9" lengthAdjust="spacingAndGlyphs" style="font-size:11px">38 WASTE+75</text>
<text class="t" x="768.8" y="216.2" textLength="120.9" lengthAdjust="spacingAndGlyphs" style="font-size:11px">CONFIRM LOCATION</text>
<text class="t" x="775.4" y="239.2" textLength="128.2" lengthAdjust="spacingAndGlyphs" style="font-size:11px">SUGGESTED GREASE</text>
<text class="t" x="775.4" y="253.7" textLength="97" lengthAdjust="spacingAndGlyphs" style="font-size:11px">TRAP LOCATION</text>
<text class="t" x="771.5" y="296" textLength="63.7" lengthAdjust="spacingAndGlyphs" style="font-size:11px">13 HW+460</text>
<text class="t" x="769.4" y="314.1" textLength="149.9" lengthAdjust="spacingAndGlyphs" style="font-size:11px">WASTE TO GREASE TRAP</text>
<text class="t" x="768.8" y="328.6" textLength="63.4" lengthAdjust="spacingAndGlyphs" style="font-size:11px">13 CW+460</text>
<text class="t" x="771.5" y="400.2" textLength="63.7" lengthAdjust="spacingAndGlyphs" style="font-size:11px">13 HW+425</text>
<text class="t" x="769.4" y="418" textLength="86.4" lengthAdjust="spacingAndGlyphs" style="font-size:11px">38 WASTE+350</text>
<text class="t" x="768.8" y="432.6" textLength="63.4" lengthAdjust="spacingAndGlyphs" style="font-size:11px">13 CW+425</text>
<text class="t" x="456.4" y="449.4" textLength="141.7" lengthAdjust="spacingAndGlyphs" style="font-size:11px">WASTE FROM DRIP PAN</text>
<text class="t" x="456.4" y="463.7" textLength="79.5" lengthAdjust="spacingAndGlyphs" style="font-size:11px">TO 38 WASTE</text>
<text class="t" x="275.5" y="471.5" textLength="59.3" lengthAdjust="spacingAndGlyphs" style="font-size:11px">13HW+460</text>
<text class="t" x="245.5" y="489.6" textLength="86.2" lengthAdjust="spacingAndGlyphs" style="font-size:11px">38 WASTE+380</text>
<text class="t" x="267.8" y="505.2" textLength="61.3" lengthAdjust="spacingAndGlyphs" style="font-size:11px">13CW+460</text>
<text class="t" x="467.3" y="485.2" textLength="116.5" lengthAdjust="spacingAndGlyphs" style="font-size:11px">13CW FROM FILTER</text>
<text class="t" x="459.5" y="498.7" textLength="86.2" lengthAdjust="spacingAndGlyphs" style="font-size:11px">38 WASTE+460</text>
<text class="t" x="468.9" y="512.4" textLength="59.7" lengthAdjust="spacingAndGlyphs" style="font-size:11px">13CW+760</text>
<text class="t" x="90.7" y="492.1" textLength="81.8" lengthAdjust="spacingAndGlyphs" style="font-size:11px">FLOOR DRAIN</text>
<text class="t" x="45.6" y="514.7" textLength="116.2" lengthAdjust="spacingAndGlyphs" style="font-size:11px">13CW FROM FILTER</text>
<text class="t" x="80.5" y="583.6" textLength="67" lengthAdjust="spacingAndGlyphs" style="font-size:11px">13CW+1200</text>
<text class="t" x="191.8" y="584.8" textLength="60" lengthAdjust="spacingAndGlyphs" style="font-size:11px">13HW+460</text>
<text class="t" x="169.2" y="607.6" textLength="86.5" lengthAdjust="spacingAndGlyphs" style="font-size:11px">38 WASTE+380</text>
<text class="t" x="204.8" y="623.7" textLength="60" lengthAdjust="spacingAndGlyphs" style="font-size:11px">13CW+460</text>
<text class="t" x="555.3" y="618.4" textLength="115.7" lengthAdjust="spacingAndGlyphs" style="font-size:11px">13CW FROM FILTER</text>
<text class="t" x="514.9" y="632.8" textLength="115.5" lengthAdjust="spacingAndGlyphs" style="font-size:11px">13CW FROM FILTER</text>
<text class="t" x="499.1" y="646.9" textLength="59" lengthAdjust="spacingAndGlyphs" style="font-size:11px">13CW+760</text>
</g>
<g filter="url(#sh)">
<path class="red" d="M28.5,234.7 L198.3,158.2 L193.7,148 L24.5,226.1 A4.7,4.7 0 0 0 28.5,234.7 Z"/>
<path class="red" d="M221,141.7 L200,166.7 L188.4,141.2 Z"/>
<path class="red" d="M627,150.6 L557.1,200.2 L563.6,209.3 L632.6,158.2 A4.7,4.7 0 0 0 627,150.6 Z"/>
<path class="red" d="M538.1,220.9 L553.8,192.2 L570.2,214.9 Z"/>
</g>
<text class="title" x="81.6" y="673.3" textLength="381.4" lengthAdjust="spacingAndGlyphs">MECHANICAL SERVICE PLAN</text>
</svg>
</body></html>
